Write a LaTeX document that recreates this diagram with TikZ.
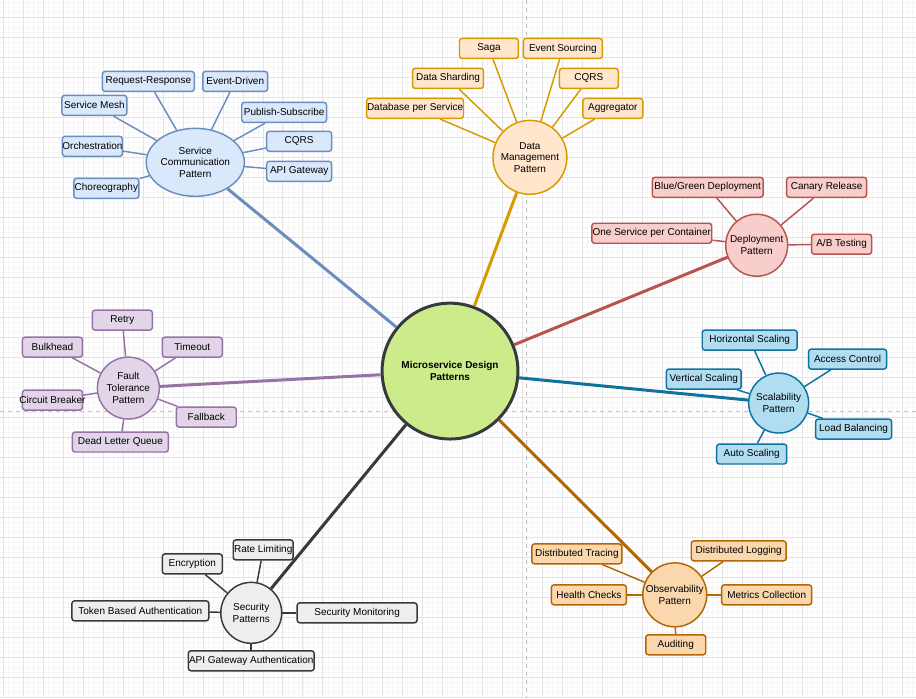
\documentclass[tikz,border=0pt]{standalone}
\usepackage{fontspec}
\setmainfont{Liberation Sans}
\usetikzlibrary{shapes.geometric}
\definecolor{gridmajor}{HTML}{E4E4E4}
\definecolor{gridminor}{HTML}{F6F6F6}
\definecolor{pageline}{HTML}{C4C4C4}
\definecolor{rootfill}{HTML}{CDEB8B}
\definecolor{darkline}{HTML}{36393D}
\definecolor{commfill}{HTML}{DAE8FC}
\definecolor{commline}{HTML}{6C8EBF}
\definecolor{datafill}{HTML}{FFE6CC}
\definecolor{dataline}{HTML}{D79B00}
\definecolor{deployfill}{HTML}{F8CECC}
\definecolor{deployline}{HTML}{B85450}
\definecolor{faultfill}{HTML}{E1D5E7}
\definecolor{faultline}{HTML}{9673A6}
\definecolor{scalefill}{HTML}{B1DDF0}
\definecolor{scaleline}{HTML}{10739E}
\definecolor{secfill}{HTML}{EEEEEE}
\definecolor{obsfill}{HTML}{FAD7AC}
\definecolor{obsline}{HTML}{B46504}
\tikzset{every node/.style={inner sep=0pt, align=center, font=\fontsize{7.5}{8.75}\selectfont},
  leaf/.style={draw, rounded corners=2pt, line width=1.1pt, minimum height=15pt, minimum width=#1*0.75pt},
  hub/.style={circle, draw, line width=1.1pt, minimum size=#1*0.75pt},
  twig/.style={line width=1.1pt},
  spoke/.style={line width=2.25pt},
  comm/.style={fill=commfill, draw=commline},
  datam/.style={fill=datafill, draw=dataline},
  deploy/.style={fill=deployfill, draw=deployline},
  fault/.style={fill=faultfill, draw=faultline},
  scaling/.style={fill=scalefill, draw=scaleline},
  secur/.style={fill=secfill, draw=darkline},
  observ/.style={fill=obsfill, draw=obsline}}

\begin{document}
\begin{tikzpicture}[x=0.75pt, y=-0.75pt]
  \fill[white] (0,0) rectangle (916,698);
  \foreach \x in {2.7,7.7,...,916} \draw[gridminor, line width=0.5pt] (\x,0) -- (\x,698);
  \foreach \y in {2.3,7.3,...,698} \draw[gridminor, line width=0.5pt] (0,\y) -- (916,\y);
  \foreach \x in {2.7,22.7,...,916} \draw[gridmajor, line width=0.6pt] (\x,0) -- (\x,698);
  \foreach \y in {17.3,37.3,...,698} \draw[gridmajor, line width=0.6pt] (0,\y) -- (916,\y);
  \draw[pageline, line width=0.75pt, dash pattern=on 3pt off 3pt] (527,0) -- (527,698);
  \draw[pageline, line width=0.75pt, dash pattern=on 3pt off 3pt] (0,411) -- (916,411);
  \useasboundingbox (0,0) rectangle (916,698);

  \node[circle, draw=darkline, fill=rootfill, line width=2.25pt, minimum size=102pt, font=\fontsize{7.5}{8.75}\selectfont\bfseries] (root) at (450,371) {Microservice Design\\Patterns};

  \node[ellipse, comm, line width=1.1pt, minimum width=64.5pt, minimum height=51pt] (commhub) at (195,162) {Service\\Communication\\Pattern};
  \node[hub=74, datam] (datahub) at (530,157) {Data\\Management\\Pattern};
  \node[hub=62, deploy] (deployhub) at (757,245) {Deployment\\Pattern};
  \node[hub=62, fault] (faulthub) at (128,388) {Fault\\Tolerance\\Pattern};
  \node[hub=60, scaling] (scalehub) at (779,403) {Scalability\\Pattern};
  \node[hub=61, secur] (sechub) at (251,613) {Security\\Patterns};
  \node[hub=64, observ] (obshub) at (675,595) {Observability\\Pattern};

  \node[leaf=92, comm] (reqres) at (148,81) {Request-Response};
  \node[leaf=65, comm] (evdriven) at (235,81) {Event-Driven};
  \node[leaf=65, comm] (mesh) at (94,105) {Service Mesh};
  \node[leaf=85, comm] (pubsub) at (284,112) {Publish-Subscribe};
  \node[leaf=65, comm] (commcqrs) at (299,141) {CQRS};
  \node[leaf=60, comm] (orch) at (92,146) {Orchestration};
  \node[leaf=65, comm] (apigw) at (299,171) {API Gateway};
  \node[leaf=65, comm] (choreo) at (106,188) {Choreography};

  \node[leaf=59, datam] (saga) at (489,48) {Saga};
  \node[leaf=79, datam] (evsource) at (563,48) {Event Sourcing};
  \node[leaf=71, datam] (sharding) at (448,78) {Data Sharding};
  \node[leaf=59, datam] (datacqrs) at (589,78) {CQRS};
  \node[leaf=97, datam] (dbper) at (415,108) {Database per Service};
  \node[leaf=60, datam] (aggr) at (613,108) {Aggregator};

  \node[leaf=111, deploy] (bluegreen) at (708,187) {Blue/Green Deployment};
  \node[leaf=80, deploy] (canary) at (827,187) {Canary Release};
  \node[leaf=120, deploy] (onesvc) at (652,233) {One Service per Container};
  \node[leaf=60, deploy] (abtest) at (842,244) {A/B Testing};

  \node[leaf=60, fault] (retry) at (122,320) {Retry};
  \node[leaf=60, fault] (bulkhead) at (52,347) {Bulkhead};
  \node[leaf=60, fault] (timeout) at (192,347) {Timeout};
  \node[leaf=60, fault] (breaker) at (52,400) {\makebox[0pt]{Circuit Breaker}};
  \node[leaf=60, fault] (fallback) at (206,417) {Fallback};
  \node[leaf=96, fault] (dlq) at (120,442) {Dead Letter Queue};

  \node[leaf=95, scaling] (hscale) at (750,340) {Horizontal Scaling};
  \node[leaf=78, scaling] (access) at (848,359) {Access Control};
  \node[leaf=75, scaling] (vscale) at (704,379) {Vertical Scaling};
  \node[leaf=76, scaling] (loadbal) at (854,429) {Load Balancing};
  \node[leaf=70, scaling] (autoscale) at (752,454) {Auto Scaling};

  \node[leaf=60, secur] (ratelim) at (263,550) {Rate Limiting};
  \node[leaf=60, secur] (encrypt) at (192,564) {Encryption};
  \node[leaf=137, secur] (token) at (140,611) {Token Based Authentication};
  \node[leaf=120, secur] (secmon) at (357,613) {Security Monitoring};
  \node[leaf=126, secur] (apiauth) at (251,661) {API Gateway Authentication};

  \node[leaf=90, observ] (tracing) at (577,554) {Distributed Tracing};
  \node[leaf=95, observ] (logging) at (739,551) {Distributed Logging};
  \node[leaf=75, observ] (health) at (589,595) {Health Checks};
  \node[leaf=90, observ] (metrics) at (767,595) {Metrics Collection};
  \node[leaf=60, observ] (auditing) at (676,645) {Auditing};

  \draw[spoke, commline] (commhub) -- (root);
  \draw[spoke, dataline] (datahub) -- (root);
  \draw[spoke, deployline] (deployhub) -- (root);
  \draw[spoke, faultline] (faulthub) -- (root);
  \draw[spoke, scaleline] (scalehub) -- (root);
  \draw[spoke, darkline] (sechub) -- (root);
  \draw[spoke, obsline] (obshub) -- (root);

  \foreach \c in {reqres,evdriven,mesh,pubsub,commcqrs,orch,apigw,choreo} \draw[twig, commline] (\c) -- (commhub);
  \foreach \c in {saga,evsource,sharding,datacqrs,dbper,aggr} \draw[twig, dataline] (\c) -- (datahub);
  \foreach \c in {bluegreen,canary,onesvc,abtest} \draw[twig, deployline] (\c) -- (deployhub);
  \foreach \c in {retry,bulkhead,timeout,breaker,fallback,dlq} \draw[twig, faultline] (\c) -- (faulthub);
  \foreach \c in {hscale,access,vscale,loadbal,autoscale} \draw[twig, scaleline] (\c) -- (scalehub);
  \foreach \c in {ratelim,encrypt,token,secmon,apiauth} \draw[twig, darkline] (\c) -- (sechub);
  \foreach \c in {tracing,logging,health,metrics,auditing} \draw[twig, obsline] (\c) -- (obshub);
\end{tikzpicture}
\end{document}
